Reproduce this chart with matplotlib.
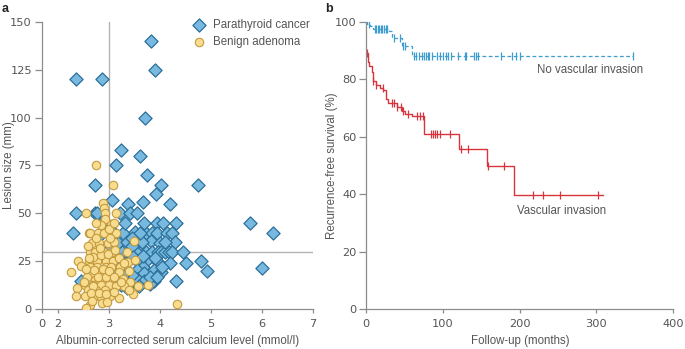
'''Lesion size vs calcium (a) and recurrence-free survival (b).'''

import numpy as np
import matplotlib
matplotlib.use('Agg')
import matplotlib.pyplot as plt

plt.rcParams['font.family'] = ['Liberation Sans', 'DejaVu Sans']

# ---- panel a data: (calcium mmol/l, lesion size mm)
cancer_calcium = [
    2.36, 2.87, 3.83, 3.91, 3.71, 3.24, 3.61, 3.14, 3.75, 2.74, 4.02, 4.74,
    3.93, 3.06, 3.68, 3.37, 4.21, 2.36, 2.74, 2.78, 3.22, 3.42, 3.55, 2.90,
    3.95, 4.07, 4.31, 5.76, 6.22, 2.30, 2.81, 3.11, 3.29, 3.52, 3.73, 3.85,
    3.94, 4.14, 4.24, 3.83, 4.01, 4.29, 3.18, 3.35, 3.62, 3.73, 3.85, 3.96,
    4.03, 4.11, 4.19, 4.24, 4.45, 3.12, 3.26, 3.39, 3.55, 3.75, 3.97, 4.20,
    4.51, 4.81, 4.92, 6.01, 3.88, 4.02, 4.31, 3.88, 3.23, 3.39, 3.60, 3.68,
    3.23, 3.35, 3.55, 3.70, 3.13, 3.30, 2.46, 3.55, 3.70, 3.36, 3.60, 3.80,
    3.50, 3.45, 3.65, 3.05, 3.00, 3.10, 3.15, 3.45, 3.25, 3.90, 4.05, 3.80,
    3.62, 3.45, 4.10, 3.33, 3.70, 3.48, 3.28, 3.95, 3.68]
cancer_size = [
    120, 120, 140, 125, 100, 83, 80, 75, 70, 65, 65, 65,
    60, 57, 56, 55, 55, 50, 50, 50, 50, 50, 50, 46,
    45, 45, 45, 45, 40, 40, 38, 40, 40, 40.5, 40, 40,
    40, 40, 40, 35.5, 34.7, 35, 34.4, 35, 30, 30, 30, 30,
    30, 30, 30, 30, 30, 30, 30, 30, 29.5, 25.7, 24.8, 24,
    24, 25.2, 20, 21.7, 20.5, 19.6, 14.8, 15, 25.7, 25.7, 25, 22,
    20.5, 20.5, 20.5, 19, 15.3, 15.3, 14.8, 16, 15, 11, 12, 13,
    27, 33, 35, 32, 25, 22, 27, 18, 12.5, 27, 22, 17,
    40, 37, 35, 45, 45, 27.5, 18, 17, 28]

benign_calcium = [
    2.76, 3.08, 2.88, 2.90, 2.55, 2.93, 3.14, 2.61, 2.63, 2.79, 2.95, 3.05,
    2.90, 3.14, 3.04, 3.00, 2.68, 2.82, 2.99, 3.10, 3.49, 2.63, 2.74, 2.90,
    3.06, 2.69, 2.90, 2.61, 2.77, 2.94, 3.08, 2.40, 2.46, 2.63, 2.78, 2.95,
    3.05, 3.23, 3.37, 3.51, 2.27, 2.66, 2.82, 2.98, 3.20, 3.39, 2.60, 2.74,
    2.90, 3.03, 3.28, 3.42, 2.53, 2.69, 2.85, 3.01, 3.30, 3.58, 3.78, 2.38,
    2.60, 2.76, 2.92, 2.53, 2.73, 2.86, 3.02, 3.21, 3.47, 2.37, 2.63, 2.55,
    4.34, 2.70, 2.85, 2.98, 2.72, 2.88, 2.58, 2.70, 2.80, 2.95, 2.65, 2.82,
    2.95, 2.52, 2.55, 2.60, 2.75, 2.83, 3.02, 3.12, 3.20, 3.30, 3.00, 3.10,
    3.15, 3.10, 2.87, 2.97, 2.68, 2.62, 3.25, 3.40, 3.35, 2.93, 2.85, 3.10,
    2.75]
benign_size = [
    75, 65, 55.6, 53, 50, 50, 50, 40, 40, 40, 40, 40,
    40, 40, 44.7, 42, 34.7, 34.7, 34.7, 35, 35.5, 30, 30, 30,
    30, 26.5, 26.5, 25.2, 25.2, 25.2, 25, 25.3, 22.7, 22.2, 22.2, 22.2,
    22.2, 22, 24.5, 25.5, 19.6, 18.7, 18.7, 18.7, 19.5, 20, 15.3, 15.3,
    15.3, 15.3, 16, 14, 12.7, 12.7, 12.7, 12.7, 12, 12, 12.5, 11,
    10, 10, 10, 7, 7, 6.5, 7, 5.7, 8, 7, 2.4, 0.5,
    3, 27.5, 28.5, 29, 20.5, 21, 17, 12, 17, 17, 8.5, 8.5,
    8, 14, 21, 33, 37, 32, 37, 31, 27, 24, 20, 17,
    12, 9, 3.5, 4, 4.5, 27, 14, 10, 30, 47, 44, 45,
    45]

calcium_ticks = [1.69, 2, 3, 4, 5, 6, 7]
calcium_ticklabels = ['0', '2', '3', '4', '5', '6', '7']
size_ticks = [0, 25, 50, 75, 100, 125, 150]
calcium_cutoff = 3
size_cutoff = 30

# ---- panel b data: Kaplan-Meier steps (months, %)
novi_times = [0, 1.5, 5, 9, 30, 33, 46, 60]
novi_surv = [100, 99.3, 98.4, 97.4, 96.9, 94.5, 91.6, 88.1]
novi_end = 347
novi_censor = [4, 11, 13, 15, 17, 19, 21, 23, 25, 27, 36, 44, 48, 51, 62, 65,
               68, 72, 75, 78, 80, 82, 86, 92, 96, 100, 104, 106, 110, 120,
               128, 130, 140, 143, 145, 175, 190, 195, 200, 347]

vi_times = [0, 2.6, 4, 7, 9, 12, 18, 22, 25.5, 28, 40, 47, 51, 59, 75.5,
            121, 157, 193]
vi_surv = [89, 86, 84.5, 82.4, 79.3, 78.1, 77, 76.1, 73.1, 71.7, 70.3, 69.1,
           68, 67.1, 60.9, 55.9, 49.9, 39.9]
vi_end = 309
vi_censor = [0.5, 9.2, 12.2, 21.3, 33, 36.5, 40.4, 45.2, 48.3, 54.8, 65.6, 70,
             73.4, 83.9, 86.5, 89.1, 91.7, 96, 109, 123, 133, 158, 180, 217,
             230, 253, 302]

GREY = '#8c8c8c'
TEXT = '#555555'
BLUE_FACE, BLUE_EDGE = '#78b9df', '#2c7099'
YELLOW_FACE, YELLOW_EDGE = '#f8dc8f', '#c39a3e'
RED = '#d8343b'
CYAN = '#3c9dce'
LABEL_SIZE = 8.3


def style_axes(ax):
    '''Grey L-shaped axes with outward ticks'''
    for side in ('top', 'right'):
        ax.spines[side].set_visible(False)
    for side in ('left', 'bottom'):
        ax.spines[side].set_color(GREY)
        ax.spines[side].set_linewidth(0.9)
    ax.tick_params(colors=GREY, labelcolor=TEXT, width=0.9, direction='out')
    ax.tick_params(axis='x', length=3, pad=4)
    ax.tick_params(axis='y', length=5, pad=2)
    for lab in ax.get_xticklabels() + ax.get_yticklabels():
        lab.set_fontfamily('DejaVu Sans')
        lab.set_fontsize(8.2)


def step_value(t, times, surv):
    '''Survival value of a step curve at time t'''
    idx = np.searchsorted(times, t, side='right') - 1
    return np.asarray(surv)[idx]


fig = plt.figure(figsize=(6.85, 3.49), dpi=100)

# ---------------- panel a
ax = fig.add_axes([0.0609, 0.1138, 0.396, 0.824])
ax.axvline(calcium_cutoff, color='#b3b3b3', lw=1, zorder=1)
ax.axhline(size_cutoff, color='#b3b3b3', lw=1, zorder=1)
ax.scatter(cancer_calcium, cancer_size, marker='D', s=45, c=BLUE_FACE,
           edgecolors=BLUE_EDGE, linewidths=0.9, zorder=3,
           label='Parathyroid cancer')
ax.scatter(benign_calcium, benign_size, marker='o', s=37, c=YELLOW_FACE,
           edgecolors=YELLOW_EDGE, linewidths=0.8, zorder=3,
           label='Benign adenoma')
ax.set_xlim(calcium_ticks[0], 7)
ax.set_ylim(0, 150)
ax.set_xticks(calcium_ticks)
ax.set_xticklabels(calcium_ticklabels)
ax.set_yticks(size_ticks)
style_axes(ax)
ax.set_xlabel('Albumin-corrected serum calcium level (mmol/l)',
              fontsize=LABEL_SIZE, color=TEXT, labelpad=4)
ax.set_ylabel('Lesion size (mm)', fontsize=LABEL_SIZE, color=TEXT)
ax.yaxis.set_label_coords(-0.1, 0.5)
ax.legend(loc='upper right', frameon=False, fontsize=LABEL_SIZE,
          handletextpad=0.2, borderaxespad=0.0, labelspacing=0.4,
          labelcolor=TEXT, bbox_to_anchor=(1.005, 1.025))
fig.text(0.003, 0.965, 'a', fontsize=9, fontweight='bold', color='#222222')

# ---------------- panel b
bx = fig.add_axes([0.5348, 0.1138, 0.448, 0.824])
bx.step(novi_times + [novi_end], novi_surv + [novi_surv[-1]], where='post',
        color=CYAN, lw=0.9, ls=(0, (3, 2)))
bx.plot(novi_censor, step_value(novi_censor, novi_times, novi_surv),
        ls='none', marker='|', ms=6, mew=0.9, color=CYAN)
bx.step(vi_times + [vi_end], vi_surv + [vi_surv[-1]], where='post',
        color=RED, lw=1.0)
bx.plot(vi_censor, step_value(vi_censor, vi_times, vi_surv),
        ls='none', marker='|', ms=6, mew=0.9, color=RED)
bx.text(222, 83.3, 'No vascular invasion', fontsize=LABEL_SIZE, color=TEXT,
        va='center', ha='left')
bx.text(196, 34.3, 'Vascular invasion', fontsize=LABEL_SIZE, color=TEXT,
        va='center', ha='left')
bx.set_xlim(0, 400)
bx.set_ylim(0, 100)
bx.set_xticks([0, 100, 200, 300, 400])
bx.set_yticks([0, 20, 40, 60, 80, 100])
style_axes(bx)
bx.set_xlabel('Follow-up (months)', fontsize=LABEL_SIZE, color=TEXT,
              labelpad=4)
bx.set_ylabel('Recurrence-free survival (%)', fontsize=LABEL_SIZE,
              color=TEXT)
bx.yaxis.set_label_coords(-0.092, 0.5)
fig.text(0.475, 0.965, 'b', fontsize=9, fontweight='bold', color='#222222')

fig.savefig('out.png', dpi=100)
